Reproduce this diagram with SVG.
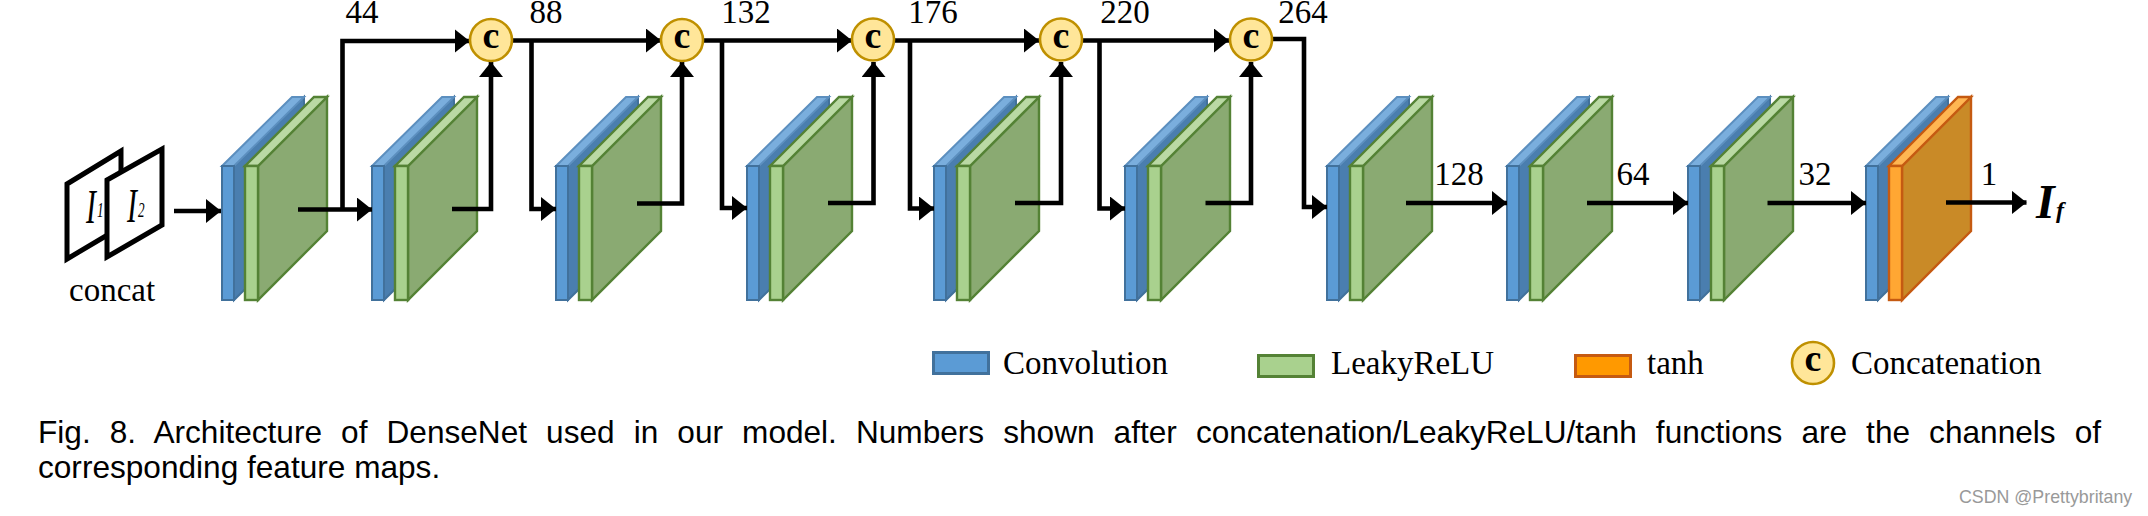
<svg xmlns="http://www.w3.org/2000/svg" xmlns:xlink="http://www.w3.org/1999/xlink" width="2148" height="516" viewBox="0 0 2148 516">
<style>
.bf{fill:#5B9BD5;stroke:#41719C;stroke-width:2}
.bs{fill:#4A7EAF;stroke:#41719C;stroke-width:2}
.bt{fill:#7AAEDD;stroke:#5C8FBF;stroke-width:2}
.gf{fill:#A9D18E;stroke:#548235;stroke-width:2.4}
.gs{fill:#8AAA72;stroke:#548235;stroke-width:2.4}
.gt{fill:#BAD9A4;stroke:#548235;stroke-width:2.4}
.of{fill:#FFA733;stroke:#C55A11;stroke-width:2.4}
.os{fill:#C98A27;stroke:#C55A11;stroke-width:2.4}
.ot{fill:#FFB652;stroke:#C55A11;stroke-width:2.4}
.cc{fill:#FFE699;stroke:#BF9000;stroke-width:2.6}
.ct{font:bold 38px "Liberation Serif",serif;fill:#000;text-anchor:middle}
.t{font:33px "Liberation Serif",serif;fill:#000}
.m{text-anchor:middle}
.w{fill:none;stroke:#000;stroke-width:4.6}
.card{fill:#fff;stroke:#000;stroke-width:5}
.ci{font:italic 46px "Liberation Serif",serif;fill:#000}
.cs{font:italic 22px "Liberation Serif",serif;fill:#000}
.cap{font:31.6px "Liberation Sans",sans-serif;fill:#000}
</style>
<defs>
<marker id="ah" markerUnits="userSpaceOnUse" markerWidth="16" markerHeight="25" refX="15" refY="12" orient="auto"><path d="M0 0L15 12L0 24Z" fill="#000"/></marker>
<g id="blue">
<polygon class="bs" points="12,166 82,97 82,231 12,300"/>
<polygon class="bt" points="0,166 70,97 82,97 12,166"/>
<rect class="bf" x="0" y="166" width="12" height="134"/>
</g>
<g id="green">
<polygon class="gs" points="36,166 105,97 105,231 36,300"/>
<polygon class="gt" points="23,166 92,97 105,97 36,166"/>
<rect class="gf" x="23" y="166" width="13" height="134"/>
</g>
<g id="orange">
<polygon class="os" points="36,166 105,97 105,231 36,300"/>
<polygon class="ot" points="23,166 92,97 105,97 36,166"/>
<rect class="of" x="23" y="166" width="13" height="134"/>
</g>
</defs>

<g id="input-images">
<polygon class="card" points="67,184 121,151 121,227 67,259"/>
<polygon class="card" points="107,180 162,149 162,225 107,257"/>
<text class="ci" transform="translate(86,223) scale(.65,1.05)">I</text>
<text class="cs" transform="translate(97,217) scale(.6,1)">1</text>
<text class="ci" transform="translate(127,222) scale(.65,1.05)">I</text>
<text class="cs" transform="translate(138,217) scale(.6,1)">2</text>
<text class="t" x="69" y="301">concat</text>
</g>

<g id="block1" transform="translate(222,0)"><use xlink:href="#blue"/><use xlink:href="#green"/></g>
<g id="block2" transform="translate(372,0)"><use xlink:href="#blue"/><use xlink:href="#green"/></g>
<g id="block3" transform="translate(556,0)"><use xlink:href="#blue"/><use xlink:href="#green"/></g>
<g id="block4" transform="translate(747,0)"><use xlink:href="#blue"/><use xlink:href="#green"/></g>
<g id="block5" transform="translate(934,0)"><use xlink:href="#blue"/><use xlink:href="#green"/></g>
<g id="block6" transform="translate(1125,0)"><use xlink:href="#blue"/><use xlink:href="#green"/></g>
<g id="block7" transform="translate(1327,0)"><use xlink:href="#blue"/><use xlink:href="#green"/></g>
<g id="block8" transform="translate(1507,0)"><use xlink:href="#blue"/><use xlink:href="#green"/></g>
<g id="block9" transform="translate(1688,0)"><use xlink:href="#blue"/><use xlink:href="#green"/></g>
<g id="block10" transform="translate(1866,0)"><use xlink:href="#blue"/><use xlink:href="#orange"/></g>

<g id="connectors">
<path class="w" marker-end="url(#ah)" d="M174 211H221"/>
<path class="w" marker-end="url(#ah)" d="M298 209.500H372"/>
<path class="w" marker-end="url(#ah)" d="M342.500 209.500V41H469.500"/>
<path class="w" marker-end="url(#ah)" d="M452 209H491V62"/>
<path class="w" marker-end="url(#ah)" d="M512 40.500H661"/>
<path class="w" marker-end="url(#ah)" d="M531.500 40.500V209H556"/>
<path class="w" marker-end="url(#ah)" d="M637 203.500H682V62"/>
<path class="w" marker-end="url(#ah)" d="M703 40.500H852"/>
<path class="w" marker-end="url(#ah)" d="M722 40.500V208H747"/>
<path class="w" marker-end="url(#ah)" d="M828 203H873.500V62"/>
<path class="w" marker-end="url(#ah)" d="M894 40.500H1039"/>
<path class="w" marker-end="url(#ah)" d="M910 40.500V208.500H934"/>
<path class="w" marker-end="url(#ah)" d="M1015 203H1061V62"/>
<path class="w" marker-end="url(#ah)" d="M1081 40.500H1229"/>
<path class="w" marker-end="url(#ah)" d="M1099.500 40.500V208.500H1125"/>
<path class="w" marker-end="url(#ah)" d="M1205.500 203H1251V62"/>
<path class="w" marker-end="url(#ah)" d="M1272 39H1304V207H1327"/>
<path class="w" marker-end="url(#ah)" d="M1406 203H1507"/>
<path class="w" marker-end="url(#ah)" d="M1587 203H1688"/>
<path class="w" marker-end="url(#ah)" d="M1767.500 203H1866"/>
<path class="w" marker-end="url(#ah)" d="M1946 202.500H2026.500"/>
</g>

<g id="concat1"><circle class="cc" cx="491" cy="40" r="21"/><text class="ct" x="491" y="48">c</text></g>
<g id="concat2"><circle class="cc" cx="682" cy="40" r="21"/><text class="ct" x="682" y="48">c</text></g>
<g id="concat3"><circle class="cc" cx="873" cy="39.500" r="21"/><text class="ct" x="873" y="48">c</text></g>
<g id="concat4"><circle class="cc" cx="1061" cy="39.500" r="21"/><text class="ct" x="1061" y="48">c</text></g>
<g id="concat5"><circle class="cc" cx="1251" cy="39.500" r="21"/><text class="ct" x="1251" y="48">c</text></g>

<g id="labels">
<text class="t m" x="362" y="23">44</text>
<text class="t m" x="546" y="23">88</text>
<text class="t m" x="746" y="23">132</text>
<text class="t m" x="933" y="23">176</text>
<text class="t m" x="1125" y="23">220</text>
<text class="t m" x="1303" y="23">264</text>
<text class="t m" x="1459" y="185">128</text>
<text class="t m" x="1633" y="185">64</text>
<text class="t m" x="1815" y="185">32</text>
<text class="t m" x="1989" y="185">1</text>
</g>
<g id="output"><text x="2036" y="218" style="font:italic bold 48px 'Liberation Serif',serif;fill:#000">I<tspan x="2056" y="218" style="font-size:24px">f</tspan></text></g>

<g id="legend">
<rect x="933.500" y="352.500" width="55" height="21" fill="#5B9BD5" stroke="#41719C" stroke-width="3"/>
<text class="t" x="1003" y="374">Convolution</text>
<rect x="1258.500" y="355.500" width="55" height="21" fill="#A9D18E" stroke="#548235" stroke-width="3"/>
<text class="t" x="1331" y="374">LeakyReLU</text>
<rect x="1575.500" y="355.500" width="55" height="21" fill="#FF9900" stroke="#C55A11" stroke-width="3"/>
<text class="t" x="1647" y="374">tanh</text>
<circle class="cc" cx="1813" cy="363" r="21"/>
<text class="ct" x="1813" y="371">c</text>
<text class="t" x="1851" y="374">Concatenation</text>
</g>

<g id="caption">
<text class="cap" x="38" y="443" word-spacing="10.300">Fig. 8. Architecture of DenseNet used in our model. Numbers shown after concatenation/LeakyReLU/tanh functions are the channels of</text>
<text class="cap" x="38" y="478">corresponding feature maps.</text>
<text x="1959" y="503" style="font:17.800px 'Liberation Sans',sans-serif;fill:#999">CSDN @Prettybritany</text>
</g>
</svg>
